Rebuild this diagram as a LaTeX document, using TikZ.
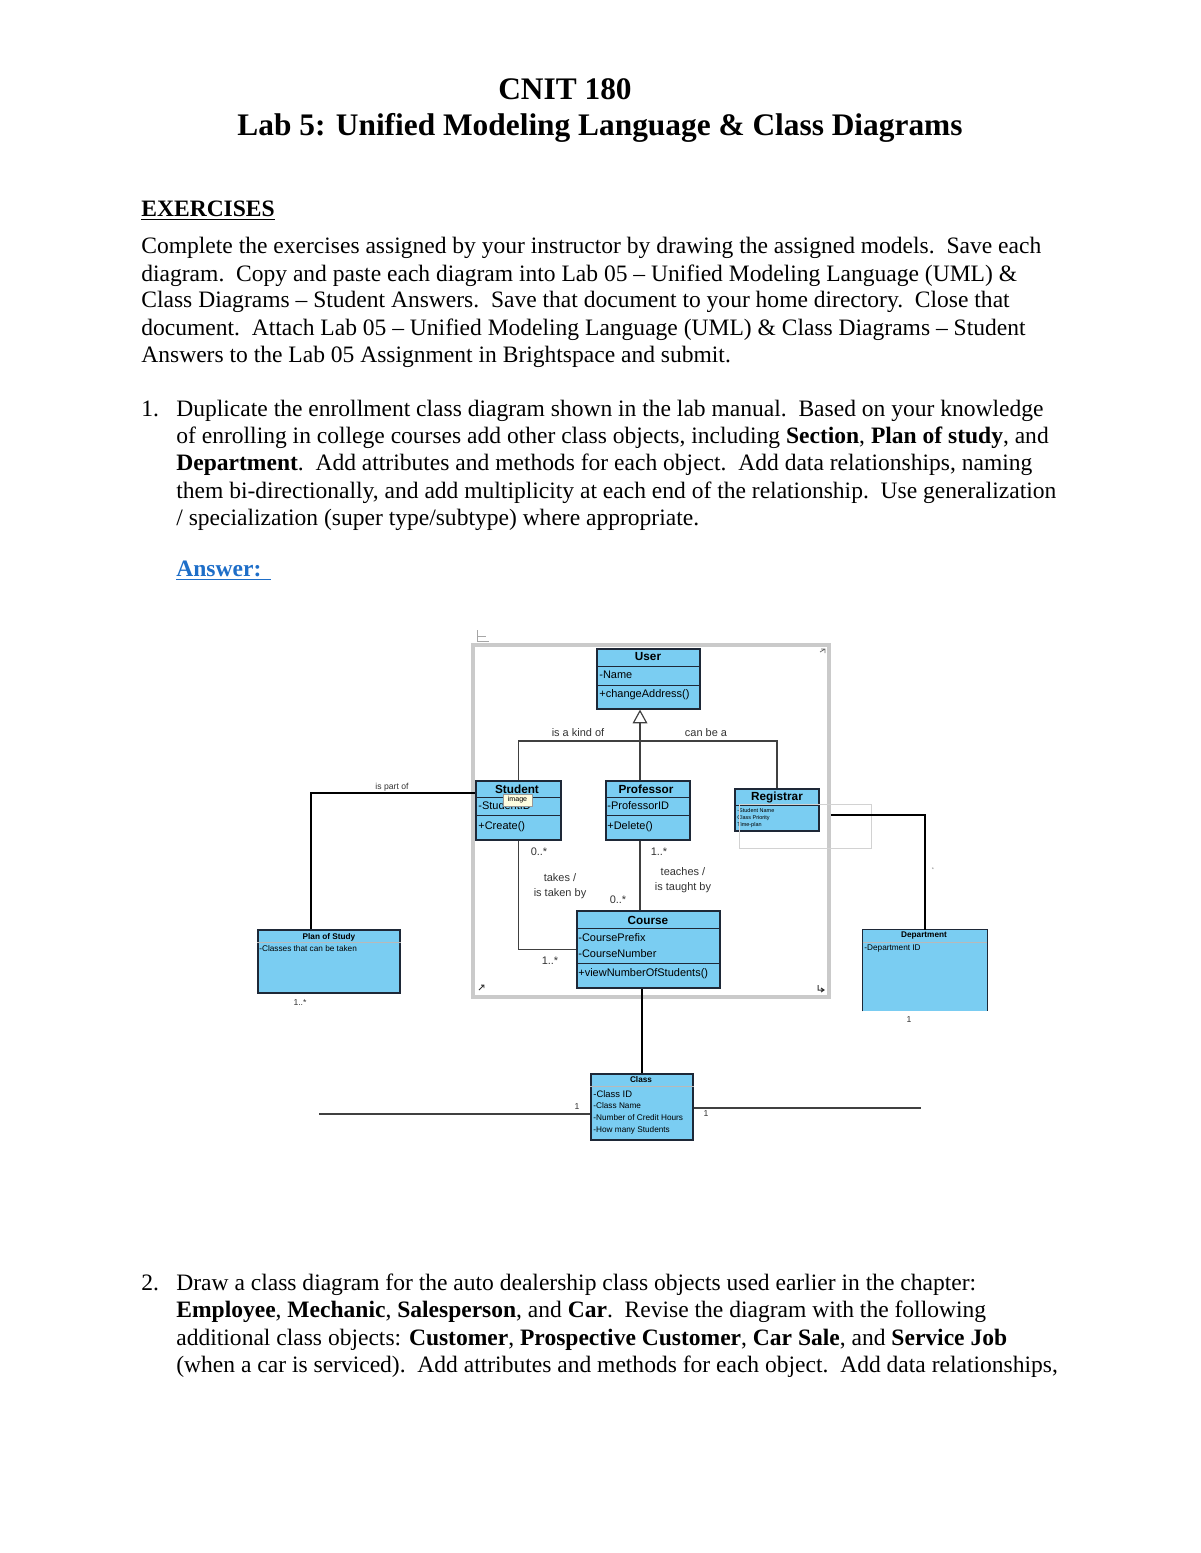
\documentclass[tikz,border=0pt]{standalone}
\usepackage{fontspec}
\setmainfont{Liberation Serif}
\setsansfont{Liberation Sans}
\usetikzlibrary{positioning,fit,arrows.meta}

\definecolor{umlblue}{RGB}{122,205,242}
\definecolor{umledge}{RGB}{30,40,55}
\definecolor{framegray}{RGB}{202,202,202}
\definecolor{linkblue}{RGB}{30,110,200}

\begin{document}
\begin{tikzpicture}[x=0.51pt,y=-0.51pt,
  txt/.style={anchor=base west,inner sep=0,font=\fontsize{12}{14}\selectfont},
  ttl/.style={anchor=base,inner sep=0,font=\bfseries\fontsize{16}{19}\selectfont},
  umlbox/.style={draw=umledge,fill=umlblue,line width=0.6pt,inner sep=0},
  sep/.style={draw=umledge,line width=0.5pt},
  lightsep/.style={draw=gray!55,line width=0.3pt},
  head/.style={font=\sffamily\bfseries\fontsize{6}{7}\selectfont,inner sep=0},
  attr/.style={font=\sffamily\fontsize{5.6}{6.5}\selectfont,inner sep=0,anchor=west},
  tinyhead/.style={font=\sffamily\bfseries\fontsize{4.2}{5}\selectfont,inner sep=0},
  tinyattr/.style={font=\sffamily\fontsize{4.2}{5}\selectfont,inner sep=0,anchor=west},
  lbl/.style={font=\sffamily\fontsize{5.6}{6.5}\selectfont,inner sep=0,text=black!80},
  assoc/.style={draw=black!75,line width=0.6pt},
  strong/.style={draw=black,line width=1.4pt},
]
\useasboundingbox[fill=white] (0,0) rectangle (1200,1553);

% page text
\node[ttl] (title1) at (565,100) {CNIT 180};
\node[ttl] (title2) at (600,136) {Lab 5: Unified Modeling Language \& Class Diagrams};
\node[txt,font=\bfseries\fontsize{12}{14}\selectfont] (exhead) at (141,216) {\underline{EXERCISES}};
\node[txt] (p1) at (141,254) {Complete the exercises assigned by your instructor by drawing the assigned models.\ \ Save each};
\node[txt] (p2) at (141,281) {diagram.\ \ Copy and paste each diagram into Lab 05 -- Unified Modeling Language (UML) \&};
\node[txt] (p3) at (141,307) {Class Diagrams -- Student Answers.\ \ Save that document to your home directory.\ \ Close that};
\node[txt] (p4) at (141,335) {document.\ \ Attach Lab 05 -- Unified Modeling Language (UML) \& Class Diagrams -- Student};
\node[txt] (p5) at (141,362) {Answers to the Lab 05 Assignment in Brightspace and submit.};

\node[txt] (n1) at (141,416) {1.};
\node[txt] (q1) at (176,416) {Duplicate the enrollment class diagram shown in the lab manual.\ \ Based on your knowledge};
\node[txt] (q2) at (176,443) {of enrolling in college courses add other class objects, including \textbf{Section}, \textbf{Plan of study}, and};
\node[txt] (q3) at (176,470) {\textbf{Department}.\ \ Add attributes and methods for each object.\ \ Add data relationships, naming};
\node[txt] (q4) at (176,498) {them bi-directionally, and add multiplicity at each end of the relationship.\ \ Use generalization};
\node[txt] (q5) at (176,525) {/ specialization (super type/subtype) where appropriate.};
\node[txt,font=\bfseries\fontsize{12}{14}\selectfont,text=linkblue] (answer) at (176,576) {\underline{Answer:\hspace{5pt}}};

\node[txt] (n2) at (141,1290) {2.};
\node[txt] (r1) at (176,1290) {Draw a class diagram for the auto dealership class objects used earlier in the chapter:};
\node[txt] (r2) at (176,1317) {\textbf{Employee}, \textbf{Mechanic}, \textbf{Salesperson}, and \textbf{Car}.\ \ Revise the diagram with the following};
\node[txt] (r3) at (176,1345) {additional class objects: \textbf{Customer}, \textbf{Prospective Customer}, \textbf{Car Sale}, and \textbf{Service Job}};
\node[txt] (r4) at (176,1372) {(when a car is serviced).\ \ Add attributes and methods for each object.\ \ Add data relationships,};

% diagram frame
\draw[gray!70,line width=0.5pt] (477,630) -- (477,641) (477,636) -- (486,636) (477,641) -- (489,641);
\node[draw=framegray,line width=2pt,inner sep=0,fit={(473,645) (829,997)}] (canvas) {};
\draw[black!60,line width=0.4pt] (820,652) -- (825,649) (821,649) -- (825,649) -- (825,653);
\draw[black!80,line width=0.5pt] (479,990) -- (484,985) (481,985) -- (484,985) -- (484,988);
\draw[black!80,line width=0.5pt] (818,985) -- (818,990) -- (824,990) (821,988) -- (824,990) -- (821,992);

% classes
\node[umlbox,fit={(597,649) (700,709)}] (user) {};
\draw[sep] (user.west |- 0,666) -- (user.east |- 0,666) (user.west |- 0,685) -- (user.east |- 0,685);
\node[head] (user-h) at (648,657) {User};
\node[attr] (user-a) at (599,675) {-Name};
\node[attr] (user-m) at (599,695) {+changeAddress()};

\node[umlbox,fit={(476,781) (561,840)}] (student) {};
\draw[sep] (student.west |- 0,797) -- (student.east |- 0,797) (student.west |- 0,815) -- (student.east |- 0,815);
\node[head] (student-h) at (517,789) {Student};
\node[attr] (student-a) at (478,806) {-StudentID};
\node[attr] (student-m) at (478,827) {+Create()};
\node[draw=black!40,fill=yellow!12,line width=0.3pt,inner sep=0,fit={(503,794) (532,806)}] (tip) {};
\node[font=\sffamily\fontsize{3.6}{4}\selectfont,inner sep=0] (tip-t) at (tip.center) {image};

\node[umlbox,fit={(606,781) (690,840)}] (prof) {};
\draw[sep] (prof.west |- 0,797) -- (prof.east |- 0,797) (prof.west |- 0,815) -- (prof.east |- 0,815);
\node[head] (prof-h) at (646,789) {Professor};
\node[attr] (prof-a) at (607,806) {-ProfessorID};
\node[attr] (prof-m) at (607,827) {+Delete()};

\node[umlbox,fit={(735,789) (819,831)}] (registrar) {};
\draw[sep] (registrar.west |- 0,805) -- (registrar.east |- 0,805);
\node[head] (registrar-h) at (777,797) {Registrar};
\node[font=\sffamily\fontsize{2.8}{3}\selectfont,inner sep=0,anchor=west] (registrar-a1) at (737,811) {-Student Name};
\node[font=\sffamily\fontsize{2.8}{3}\selectfont,inner sep=0,anchor=west] (registrar-a2) at (737,818) {Class Priority};
\node[font=\sffamily\fontsize{2.8}{3}\selectfont,inner sep=0,anchor=west] (registrar-a3) at (737,825) {Time-plan};
\draw[gray!35,line width=0.4pt] (739,804) rectangle (871,848);

\node[umlbox,fit={(577,911) (720,988)}] (course) {};
\draw[sep] (course.west |- 0,928) -- (course.east |- 0,928) (course.west |- 0,963) -- (course.east |- 0,963);
\node[head] (course-h) at (648,920) {Course};
\node[attr] (course-a1) at (578,938) {-CoursePrefix};
\node[attr] (course-a2) at (578,954) {-CourseNumber};
\node[attr] (course-m) at (578,974) {+viewNumberOfStudents()};

\node[umlbox,fit={(258,930) (400,993)}] (plan) {};
\draw[lightsep] (plan.west |- 0,942) -- (plan.east |- 0,942);
\node[tinyhead] (plan-h) at (329,937) {Plan of Study};
\node[tinyattr] (plan-a) at (259,949) {-Classes that can be taken};

\node[fill=umlblue,inner sep=0,fit={(863,930) (987,1011)}] (dept) {};
\draw[umledge,line width=0.6pt] (dept.south west) -- (dept.north west) -- (dept.north east) -- (dept.south east);
\draw[lightsep] (dept.west |- 0,942) -- (dept.east |- 0,942);
\node[tinyhead] (dept-h) at (924,936) {Department};
\node[tinyattr] (dept-a) at (864,949) {-Department ID};

\node[umlbox,fit={(591,1074) (693,1140)}] (class) {};
\draw[lightsep] (class.west |- 0,1086) -- (class.east |- 0,1086);
\node[tinyhead] (class-h) at (641,1080) {Class};
\node[tinyattr,font=\sffamily\fontsize{4.8}{5}\selectfont] (class-a1) at (593,1094) {-Class ID};
\node[tinyattr] (class-a2) at (593,1106) {-Class Name};
\node[tinyattr] (class-a3) at (593,1118) {-Number of Credit Hours};
\node[tinyattr] (class-a4) at (593,1130) {-How many Students};

% connectors
\coordinate (genjoin) at (640,741);
\coordinate (partof) at (311,793);
\coordinate (regout) at (canvas.east |- 0,815);
\coordinate (leftend) at (319,1114);
\coordinate (rightend) at (921,1108);
\draw[assoc] (student.north) |- (genjoin) -| (registrar.north);
\draw[assoc,-{Triangle[open,length=7pt,width=7.5pt]}] (prof.north -| genjoin) -- (user.south -| genjoin);
\draw[assoc] (student.south) |- (course.west);
\draw[assoc] (prof.south -| genjoin) -- (course.north -| genjoin);
\draw[strong] (course.south -| class.north) -- (class.north);
\draw[strong] (plan.north -| partof) -- (partof) -- (student.west |- partof);
\draw[strong] (regout) -| (dept.north);
\draw[assoc] (leftend) -- (class.west |- leftend);
\draw[assoc] (class.east |- rightend) -- (rightend);

% labels
\node[lbl] (l-kind) at (578,733) {is a kind of};
\node[lbl] (l-canbe) at (706,733) {can be a};
\node[lbl,font=\sffamily\fontsize{4.4}{5}\selectfont] (l-part) at (392,787) {is part of};
\node[lbl] (m-st) at (539,852) {0..*};
\node[lbl] (l-takes1) at (560,878) {takes /};
\node[lbl] (l-takes2) at (560,894) {is taken by};
\node[lbl] (m-cs) at (550,961) {1..*};
\node[lbl] (m-pr) at (659,852) {1..*};
\node[lbl] (l-teach1) at (683,872) {teaches /};
\node[lbl] (l-teach2) at (683,888) {is taught by};
\node[lbl] (m-cp) at (618,900) {0..*};
\node[lbl,font=\sffamily\fontsize{4.4}{5}\selectfont] (m-plan) at (300,1003) {1..*};
\node[lbl,font=\sffamily\fontsize{4.4}{5}\selectfont] (m-dept) at (909,1020) {1};
\node[lbl,font=\sffamily\fontsize{2.8}{3}\selectfont,text=black!50] (m-reg) at (933,870) {*};
\node[lbl,font=\sffamily\fontsize{4.4}{5}\selectfont] (m-cl) at (577,1107) {1};
\node[lbl,font=\sffamily\fontsize{4.4}{5}\selectfont] (m-cr) at (706,1114) {1};
\end{tikzpicture}
\end{document}
